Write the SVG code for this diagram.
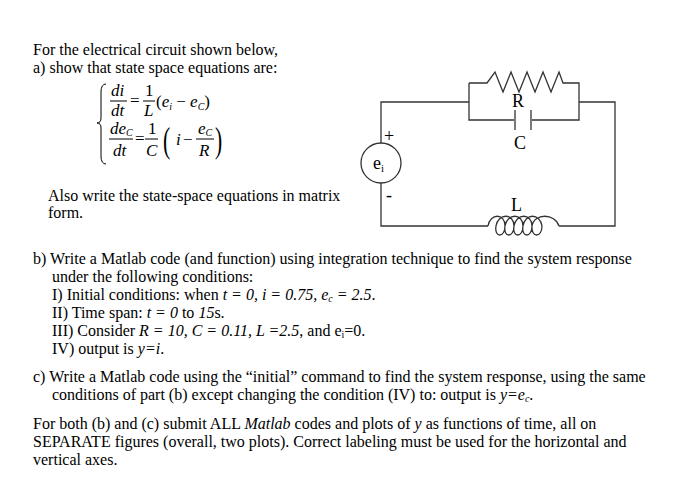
<svg xmlns="http://www.w3.org/2000/svg" width="673" height="497" viewBox="0 0 673 497">
<style>
text{font-family:"Liberation Serif","Times New Roman",serif;font-size:16px;fill:#000}
.i{font-style:italic}
.e{font-size:17px}
.c{font-size:18px}
.p{font-size:36px}
.w{fill:none;stroke:#333;stroke-width:1.3}
</style>
<rect width="673" height="497" fill="#fff"/>
<g id="text">
<text x="33" y="55">For the electrical circuit shown below,</text>
<text x="33" y="73">a) show that state space equations are:</text>
<text x="48" y="201">Also write the state-space equations in matrix</text>
<text x="48" y="218">form.</text>
<text x="33" y="264">b) Write a Matlab code (and function) using integration technique to find the system response</text>
<text x="52" y="282">under the following conditions:</text>
<text x="52" y="300">I)  Initial conditions: when <tspan class="i">t = 0, i = 0.75, e</tspan><tspan class="i" font-size="10" dy="2">c</tspan><tspan class="i" dy="-2"> = 2.5</tspan>.</text>
<text x="52" y="318">II)  Time span: <tspan class="i">t = 0</tspan> to <tspan class="i">15</tspan>s.</text>
<text x="52" y="336">III) Consider <tspan class="i">R = 10, C = 0.11, L =2.5</tspan>, and e<tspan font-size="10" dy="2">i</tspan><tspan dy="-2">=0.</tspan></text>
<text x="52" y="354">IV) output is <tspan class="i">y=i</tspan>.</text>
<text x="33" y="382">c) Write a Matlab code using the “initial” command to find the system response, using the same</text>
<text x="52" y="400">conditions of part (b) except changing the condition (IV) to: output is <tspan class="i">y=e</tspan><tspan class="i" font-size="10" dy="2">c</tspan><tspan dy="-2">.</tspan></text>
<text x="33" y="429">For both (b) and (c) submit ALL <tspan class="i">Matlab</tspan> codes and plots of <tspan class="i">y</tspan> as functions of time, all on</text>
<text x="33" y="447">SEPARATE figures (overall, two plots). Correct labeling must be used for the horizontal and</text>
<text x="33" y="465">vertical axes.</text>
</g>
<g id="equations">
<path d="M106,84 Q101,84 101,92 L101,118 Q101,123 97,123 Q101,123 101,128 L101,156 Q101,164 106,164" fill="none" stroke="#000" stroke-width="1"/>
<text class="i e" x="111" y="96">di</text>
<line x1="110" y1="101" x2="127" y2="101" stroke="#000"/>
<text class="i e" x="111" y="116">dt</text>
<text class="e" x="130" y="106">=</text>
<text class="e" x="145" y="96">1</text>
<line x1="143" y1="101" x2="155" y2="101" stroke="#000"/>
<text class="i e" x="144" y="116">L</text>
<text class="e" x="156" y="107">(<tspan class="i">e</tspan><tspan class="i" font-size="10" dy="3">i</tspan><tspan dy="-3"> − </tspan><tspan class="i">e</tspan><tspan class="i" font-size="10" dy="3">C</tspan><tspan dy="-3">)</tspan></text>
<text class="i e" x="110" y="134">de<tspan font-size="10" dy="2">C</tspan></text>
<line x1="109" y1="139" x2="133" y2="139" stroke="#000"/>
<text class="i e" x="113" y="156">dt</text>
<text class="e" x="135" y="144">=</text>
<text class="e" x="148" y="134">1</text>
<line x1="145" y1="139" x2="158" y2="139" stroke="#000"/>
<text class="i e" x="146" y="156">C</text>
<text class="p" x="163" y="152" transform="translate(163,152) scale(0.6,1) translate(-163,-152)">(</text>
<text class="i e" x="176" y="145">i</text>
<text class="e" x="183" y="145">−</text>
<text class="i e" x="198" y="134">e<tspan font-size="10" dy="2">C</tspan></text>
<line x1="196" y1="139" x2="214" y2="139" stroke="#000"/>
<text class="i e" x="199" y="156">R</text>
<text class="p" x="215" y="152" transform="translate(215,152) scale(0.6,1) translate(-215,-152)">)</text>
</g>
<g id="circuit">
<path class="w" d="M381,143 L381,102 L469,102 M469,83 L469,120 L514,120 M532,120 L579,120 L579,83 L563,83 L559,72 L551,92 L543,72 L535,92 L527,72 L519,92 L511,72 L503,92 L495,72 L487,83 L469,83 M579,102 L615,102 L615,226 L559,226 M488,226 L381,226 L381,183"/>
<path class="w" d="M515,110 L515,130 M531,110 L531,130"/>
<circle class="w" cx="381" cy="163" r="20"/>
<path class="w" d="M488,226 C490,213 505,213 505,226 C505,238 494,238 496,226 C498,213 514,213 514,226 C514,238 503,238 505,226 C507,213 523,213 523,226 C523,238 512,238 514,226 C516,213 532,213 532,226 C532,238 521,238 523,226 C525,213 540,213 542,226 C542,238 531,238 532,226 C534,213 555,213 559,226"/>
<text class="c" x="373" y="169">e<tspan font-size="11" dy="3">i</tspan></text>
<text class="c" x="384" y="142" fill="#a00">+</text>
<text class="c" x="386" y="201">-</text>
<text class="c" x="512" y="107">R</text>
<text class="c" x="514" y="149">C</text>
<text class="c" x="511" y="211">L</text>
</g>
</svg>
